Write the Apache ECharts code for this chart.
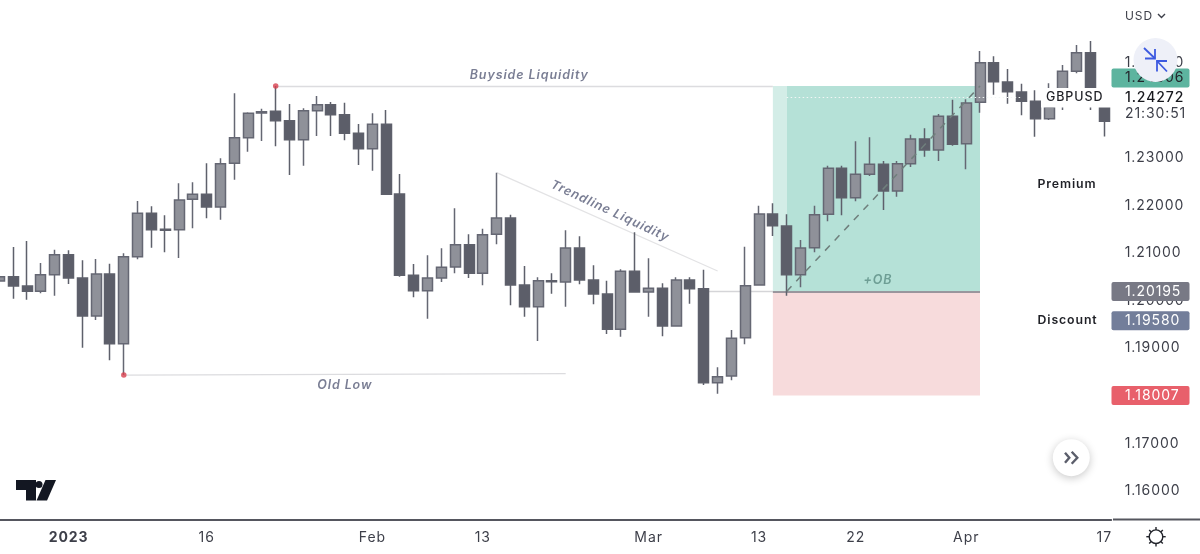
<!DOCTYPE html>
<html>
<head>
<meta charset="utf-8">
<style>html,body{margin:0;padding:0;background:#fff}#c{width:1200px;height:554px}</style>
<script src="https://cdn.jsdelivr.net/npm/echarts@6/dist/echarts.min.js"></script>
</head>
<body>
<div id="c"></div>
<script>
const dates = ['2022-12-26','2022-12-27','2022-12-28','2022-12-29','2022-12-30',
'2023-01-02','2023-01-03','2023-01-04','2023-01-05','2023-01-06','2023-01-09','2023-01-10','2023-01-11','2023-01-12','2023-01-13',
'2023-01-16','2023-01-17','2023-01-18','2023-01-19','2023-01-20','2023-01-23','2023-01-24','2023-01-25','2023-01-26','2023-01-27',
'2023-01-30','2023-01-31','2023-02-01','2023-02-02','2023-02-03','2023-02-06','2023-02-07','2023-02-08','2023-02-09','2023-02-10',
'2023-02-13','2023-02-14','2023-02-15','2023-02-16','2023-02-17','2023-02-20','2023-02-21','2023-02-22','2023-02-23','2023-02-24',
'2023-02-27','2023-02-28','2023-03-01','2023-03-02','2023-03-03','2023-03-06','2023-03-07','2023-03-08','2023-03-09','2023-03-10',
'2023-03-13','2023-03-14','2023-03-15','2023-03-16','2023-03-17','2023-03-20','2023-03-21','2023-03-22','2023-03-23','2023-03-24',
'2023-03-27','2023-03-28','2023-03-29','2023-03-30','2023-03-31','2023-04-03','2023-04-04','2023-04-05','2023-04-06','2023-04-07',
'2023-04-10','2023-04-11','2023-04-12','2023-04-13','2023-04-14','2023-04-17'];
const opens = [1.20413,1.20504,1.20308,1.20196,1.20546,1.20967,1.20476,1.19677,1.2056,1.19095,
1.20925,1.21836,1.215,1.21493,1.22131,1.22236,1.2197,1.22888,1.23428,1.23946,
1.23981,1.23785,1.23386,1.23995,1.24122,1.23911,1.23519,1.23196,1.23708,1.22243,
1.20532,1.2021,1.20476,1.20708,1.21177,1.20575,1.21395,1.21738,1.20329,1.19874,
1.2042,1.20392,1.21107,1.20434,1.2014,1.19397,1.20617,1.20182,1.20259,1.19467,
1.20434,1.20252,1.18275,1.18415,1.19222,1.20329,1.21822,1.2157,1.20546,1.21114,
1.21815,1.22783,1.22166,1.22657,1.22867,1.22306,1.22881,1.234,1.23168,1.23876,
1.23301,1.24171,1.25005,1.24598,1.24388,1.24192,1.23827,1.2436,1.24823,1.25215,1.24066];
const closes = [1.20504,1.20308,1.20196,1.20546,1.20967,1.20476,1.19677,1.2056,1.19095,1.20925,
1.21836,1.21493,1.21479,1.22117,1.22236,1.2197,1.22881,1.23428,1.23939,1.23974,
1.23785,1.23386,1.23995,1.24122,1.23911,1.23519,1.23196,1.23708,1.22236,1.20532,
1.2021,1.20476,1.20701,1.21177,1.20575,1.21388,1.21738,1.20329,1.19874,1.2042,
1.20399,1.21107,1.20434,1.2014,1.19397,1.20617,1.20182,1.20259,1.19467,1.20434,
1.20252,1.18275,1.18401,1.19208,1.20315,1.21822,1.21577,1.20546,1.21107,1.21808,
1.22783,1.22166,1.22657,1.22867,1.22306,1.22881,1.234,1.23168,1.23876,1.23287,
1.24157,1.25005,1.24605,1.24395,1.24192,1.23827,1.24066,1.24823,1.25215,1.24115,1.23771];
const lows = [1.20413,1.20042,1.20021,1.20154,1.20105,1.2035,1.19011,1.19593,1.18745,1.18436,
1.20869,1.21114,1.21016,1.20897,1.21521,1.21731,1.21703,1.22544,1.23133,1.23358,
1.23245,1.22642,1.22839,1.23463,1.23463,1.23372,1.22853,1.22734,1.22236,1.20504,
1.2007,1.19621,1.20392,1.20575,1.20476,1.20322,1.21184,1.19902,1.19663,1.19152,
1.20147,1.19874,1.20343,1.19923,1.19299,1.19243,1.20182,1.19663,1.1925,1.19467,
1.19937,1.18226,1.18044,1.18324,1.19081,1.20329,1.2136,1.20105,1.2028,1.21016,
1.21668,1.21794,1.22089,1.22621,1.21906,1.22187,1.22811,1.23028,1.22937,1.23259,
1.22762,1.23953,1.24332,1.24143,1.23897,1.23449,1.23799,1.24009,1.24781,1.24009,1.23453];
const highs = [1.20504,1.21128,1.21255,1.20792,1.21072,1.21058,1.20848,1.20876,1.20778,1.20995,
1.22096,1.21984,1.21794,1.22467,1.22488,1.22888,1.22993,1.2436,1.2396,1.24037,
1.24514,1.24136,1.24044,1.24304,1.24178,1.24164,1.23715,1.23939,1.24009,1.22664,
1.20771,1.20953,1.211,1.21941,1.21395,1.21514,1.22692,1.21808,1.20729,1.2049,
1.20575,1.21479,1.21353,1.20743,1.2042,1.20659,1.21437,1.2089,1.20364,1.2049,
1.2049,1.20652,1.18598,1.19383,1.21135,1.21998,1.22047,1.21815,1.21276,1.21998,
1.22839,1.22839,1.23351,1.23435,1.22937,1.22937,1.23491,1.23624,1.23925,1.24227,
1.24234,1.2525,1.25138,1.24872,1.24563,1.24423,1.2457,1.24956,1.25376,1.25461,1.24066];

const priceTicks = [1.16,1.17,1.18,1.19,1.20,1.21,1.22,1.23,1.24,1.25];
const timeTicks = {'2023-01-02':'2023','2023-01-16':'16','2023-02-01':'Feb','2023-02-13':'13','2023-03-01':'Mar','2023-03-13':'13','2023-03-22':'22','2023-04-03':'Apr','2023-04-17':'17'};

const boxTop = 1.24514, boxMid = 1.20195, boxBottom = 1.18007;
const tagPositions = [1.24682, 1.20195, 1.19580, 1.18007];
const tagLabels = ['1.24506', '1.20195', '1.19580', '1.18007'];
const tagFill = ['#5DB49F', '#787985', '#737E9A', '#E8606B'];
const tagText = ['#23252c', '#ffffff', '#ffffff', '#ffffff'];
const lastPrice = 1.24272, lastPriceLabel = '1.24272', countdown = '21:30:51';

const FONT = 'Inter, "Noto Sans", sans-serif';
const annoColor = '#7A7E94';
const annoFont = 'italic 600 12.5px Inter, sans-serif';

// the reference's type is tracked out by about a pixel
(function(){
  const P = CanvasRenderingContext2D.prototype;
  ['fillText','strokeText','measureText'].forEach(function(m){
    const o = P[m];
    P[m] = function(){ this.letterSpacing = '0.9px'; return o.apply(this, arguments); };
  });
})();

const chart = echarts.init(document.getElementById('c'), null, {renderer:'canvas'});

function tagRender(params, api){
  const i = params.dataIndex;
  const y = api.coord([0, tagPositions[i]])[1];
  return {type:'group', children:[
    {type:'rect', shape:{x:1111.5,y:y-9.5,width:78,height:19,r:2}, style:{fill:tagFill[i]}},
    {type:'text', style:{x:1125,y:y,text:tagLabels[i],fill:tagText[i],font:'14px '+FONT,textAlign:'left',textVerticalAlign:'middle'}}
  ]};
}

const annoData = [
  {t:'Buyside Liquidity', c:'2023-02-16', p:1.24746, rot:0, dx:5, col:annoColor},
  {t:'Old Low', c:'2023-01-30', p:1.18226, rot:0, dx:0, col:annoColor},
  {t:'+OB', c:'2023-03-23', p:1.20434, rot:0, dx:8.5, col:'#6E9E95'},
  {t:'Trendline Liquidity', c:'2023-02-24', p:1.21885, rot:-0.436, dx:3, col:annoColor}
];
function annoRender(params, api){
  const a = annoData[params.dataIndex];
  const pt = api.coord([a.c, a.p]);
  return {type:'text', x:pt[0]+a.dx, y:pt[1], rotation:a.rot,
    style:{x:0,y:0,text:a.t,fill:a.col,font:annoFont,textAlign:'center',textVerticalAlign:'middle'}};
}

const markLineData = [
  [{coord:[dates[20],boxTop],lineStyle:{color:'#DCDCDF',width:1.3,type:'solid'}},{coord:[dates[56],boxTop]}],
  [{coord:[dates[9],1.18436],lineStyle:{color:'#DCDCDF',width:1.3,type:'solid'}},{coord:[dates[41],1.18466]}],
  [{coord:[dates[36],1.22692],lineStyle:{color:'#E3E3E5',width:1.3,type:'solid'}},{coord:[dates[52],1.20624]}],
  [{coord:[dates[51],boxMid],lineStyle:{color:'#D5D5D8',width:1.3,type:'solid'}},{coord:[dates[56],boxMid]}],
  [{coord:[dates[56],boxMid],lineStyle:{color:'#7C7D87',width:1.5,type:'solid'}},{coord:[dates[71],boxMid]}]
];

const overLines = [
  [{coord:[dates[57],boxMid],lineStyle:{color:'#6F7F7C',width:1.5,type:[7,7]}},{coord:[dates[71],boxTop]}],
  [{coord:[dates[57],lastPrice],lineStyle:{color:'#F2F6F5',width:1.2,type:[1.5,2.5]}},{coord:[dates[74],lastPrice]}]
];

const candleData = dates.map((d,i)=>[opens[i],closes[i],lows[i],highs[i]]);

chart.setOption({
  animation:false,
  backgroundColor:'#fff',
  grid:{left:-7.4,right:88.8,top:1.1,height:518.3,containLabel:false,outerBoundsMode:'none'},
  xAxis:{
    type:'category', data:dates, boundaryGap:true,
    axisLine:{show:true,onZero:false,lineStyle:{color:'#55565E',width:2}},
    axisTick:{show:false}, splitLine:{show:false},
    axisLabel:{
      show:true, margin:11, hideOverlap:false, showMinLabel:true, showMaxLabel:true,
      interval:(idx,val)=>timeTicks[val]!==undefined,
      formatter:(val)=>{const s=timeTicks[val]; return s==='2023'?'{b|2023}':(s||'');},
      color:'#3D3F49', fontFamily:FONT, fontSize:14,
      rich:{b:{fontWeight:700,fontSize:14,fontFamily:FONT,color:'#3D3F49'}}
    }
  },
  yAxis:{
    type:'value', position:'right', min:1.154, max:1.263, scale:true,
    axisLine:{show:false}, axisTick:{show:false}, splitLine:{show:false},
    axisLabel:{show:true, inside:false, margin:13.5, customValues:priceTicks, padding:[4,0,0,0],
      formatter:(v)=>v.toFixed(5), color:'#3D3F49', fontFamily:FONT, fontSize:14, align:'left'}
  },
  series:[
    {type:'line', name:'boxes', data:[], z:1, silent:true, showSymbol:false,
      markArea:{silent:true, z:1, itemStyle:{opacity:1}, data:[
        [{xAxis:dates[56],yAxis:boxTop,itemStyle:{color:'#D3EDE7'}},{xAxis:dates[57],yAxis:boxMid}],
        [{xAxis:dates[57],yAxis:boxTop,itemStyle:{color:'#B5E1D7'}},{xAxis:dates[71],yAxis:boxMid}],
        [{xAxis:dates[56],yAxis:boxMid,itemStyle:{color:'#F7DBDC'}},{xAxis:dates[71],yAxis:boxBottom}]
      ]},
      markLine:{silent:true, symbol:'none', z:1, label:{show:false}, animation:false, data:markLineData}
    },
    {type:'candlestick', name:'GBPUSD', data:candleData, barWidth:10.5, z:3, silent:true,
      itemStyle:{color:'#8F9199',color0:'#5C5E69',borderColor:'#656773',borderColor0:'#5E606B',borderWidth:1.5}},
    {type:'line', name:'overlay', data:[], z:4, silent:true, showSymbol:false,
      markLine:{silent:true, symbol:'none', z:4, label:{show:false}, animation:false, data:overLines}
    },
    {type:'scatter', name:'pivots', data:[[dates[20],1.24514],[dates[9],1.18436]], symbolSize:5.5, z:5, silent:true,
      itemStyle:{color:'#D8404F'}},
    {type:'custom', name:'annotations', data:annoData.map((a,i)=>[i]), z:5, silent:true, clip:false, renderItem:annoRender},
    {type:'custom', name:'tags', data:tagLabels.map((a,i)=>[i]), z:9, silent:true, clip:false, renderItem:tagRender, encode:{x:null,y:null}}
  ],
  graphic:{elements:[
    {type:'line', z:20, shape:{x1:1113,y1:519.5,x2:1200,y2:519.5}, style:{stroke:'#55565E',lineWidth:2}},
    {type:'rect', z:20, shape:{x:1041,y:88,width:70,height:19.5}, style:{fill:'#fff'}},
    {type:'text', z:21, x:1046,y:97.5, style:{text:'GBPUSD',fill:'#1F2026',font:'500 12.5px '+FONT,textVerticalAlign:'middle'}},
    {type:'rect', z:20, shape:{x:1111.5,y:88,width:78,height:34}, style:{fill:'#fff'}},
    {type:'text', z:21, x:1125,y:97.5, style:{text:lastPriceLabel,fill:'#17181d',font:'500 14px '+FONT,textVerticalAlign:'middle'}},
    {type:'text', z:21, x:1125,y:113.5, style:{text:countdown,fill:'#3D3F49',font:'14px '+FONT,textVerticalAlign:'middle'}},
    {type:'text', z:21, x:1037.5,y:184, style:{text:'Premium',fill:'#1F2026',font:'600 12.3px '+FONT,textVerticalAlign:'middle'}},
    {type:'text', z:21, x:1037.5,y:320, style:{text:'Discount',fill:'#1F2026',font:'600 12.3px '+FONT,textVerticalAlign:'middle'}},
    {type:'text', z:21, x:1125,y:16, style:{text:'USD',fill:'#3D3F49',font:'12px '+FONT,textVerticalAlign:'middle'}},
    {type:'polyline', z:21, shape:{points:[[1158,14],[1161.5,17.5],[1165,14]]}, style:{stroke:'#3D3F49',lineWidth:1.4,fill:'none'}},
    {type:'circle', z:22, shape:{cx:1155.5,cy:60,r:22}, style:{fill:'#EEF0F8'}},
    {type:'polyline', z:23, shape:{points:[[1145,58.5],[1155,58.5],[1155,49]]}, style:{stroke:'#3D5AE0',lineWidth:1.8,fill:'none'}},
    {type:'line', z:23, shape:{x1:1155,y1:58.5,x2:1144,y2:48}, style:{stroke:'#3D5AE0',lineWidth:1.8}},
    {type:'polyline', z:23, shape:{points:[[1167,61],[1157,61],[1157,71.5]]}, style:{stroke:'#3D5AE0',lineWidth:1.8,fill:'none'}},
    {type:'line', z:23, shape:{x1:1157,y1:61,x2:1167,y2:71.5}, style:{stroke:'#3D5AE0',lineWidth:1.8}},
    {type:'circle', z:22, shape:{cx:1071.3,cy:457.7,r:18.5}, style:{fill:'#fff',shadowBlur:8,shadowColor:'rgba(0,0,0,0.22)',shadowOffsetY:2}},
    {type:'polyline', z:23, shape:{points:[[1065,452.7],[1069.3,457.7],[1065,462.7]]}, style:{stroke:'#5B5E6B',lineWidth:2.4,fill:'none'}},
    {type:'polyline', z:23, shape:{points:[[1071.7,451.7],[1077.3,457.7],[1071.7,463.7]]}, style:{stroke:'#5B5E6B',lineWidth:2.4,fill:'none'}},
    {type:'polygon', z:21, shape:{points:[[16,480],[36,480],[36,500.5],[26,500.5],[26,490],[16,490]]}, style:{fill:'#131722'}},
    {type:'circle', z:21, shape:{cx:39,cy:484.5,r:3.5}, style:{fill:'#131722'}},
    {type:'polygon', z:21, shape:{points:[[45.5,480],[56,480],[47,500.5],[36.5,500.5]]}, style:{fill:'#131722'}},
    {type:'circle', z:21, shape:{cx:1156,cy:536.7,r:6.8}, style:{stroke:'#23252C',lineWidth:1.4,fill:'none'}},
    {type:'line', z:21, shape:{x1:1156,y1:527,x2:1156,y2:530}, style:{stroke:'#23252C',lineWidth:1.4}},
    {type:'line', z:21, shape:{x1:1156,y1:543.5,x2:1156,y2:546.5}, style:{stroke:'#23252C',lineWidth:1.4}},
    {type:'line', z:21, shape:{x1:1146.3,y1:536.7,x2:1149.2,y2:536.7}, style:{stroke:'#23252C',lineWidth:1.4}},
    {type:'line', z:21, shape:{x1:1162.8,y1:536.7,x2:1165.7,y2:536.7}, style:{stroke:'#23252C',lineWidth:1.4}},
    {type:'line', z:21, shape:{x1:1149.2,y1:529.9,x2:1151.2,y2:531.9}, style:{stroke:'#23252C',lineWidth:1.4}},
    {type:'line', z:21, shape:{x1:1160.8,y1:541.5,x2:1162.8,y2:543.5}, style:{stroke:'#23252C',lineWidth:1.4}},
    {type:'line', z:21, shape:{x1:1162.8,y1:529.9,x2:1160.8,y2:531.9}, style:{stroke:'#23252C',lineWidth:1.4}},
    {type:'line', z:21, shape:{x1:1151.2,y1:541.5,x2:1149.2,y2:543.5}, style:{stroke:'#23252C',lineWidth:1.4}}
  ]}
});
</script>
</body>
</html>
